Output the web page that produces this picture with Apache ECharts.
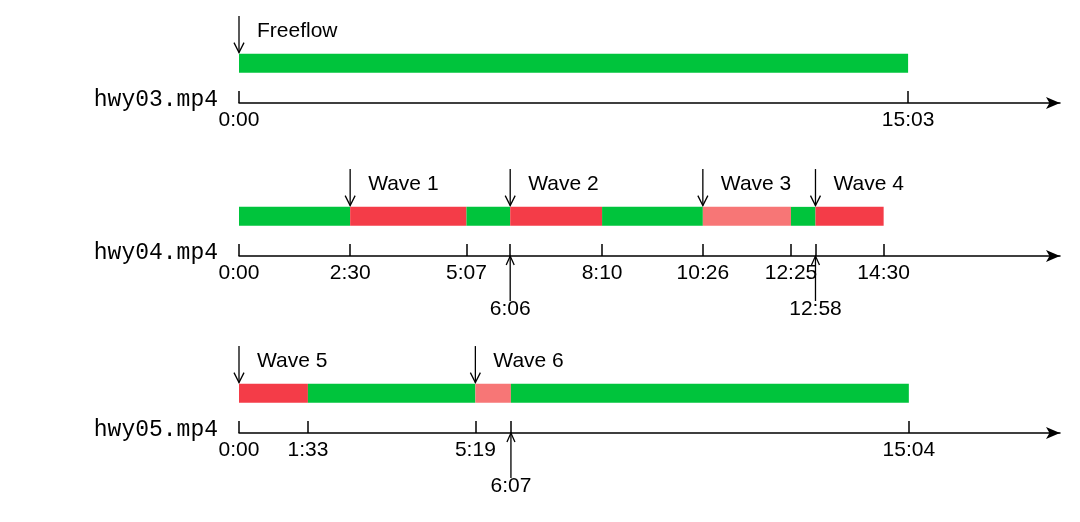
<!DOCTYPE html>
<html>
<head>
<meta charset="utf-8">
<script src="https://cdn.jsdelivr.net/npm/echarts@6/dist/echarts.min.js"></script>
<style>html,body{margin:0;padding:0;background:#fff}#chart{width:1080px;height:522px}</style>
</head>
<body>
<div id="chart"></div>
<script>
// video names, one timeline per video
const rows = ['hwy03.mp4', 'hwy04.mp4', 'hwy05.mp4'];

// segments in seconds: [start, end, state]  g = free flow, r = wave, l = light wave
const segments = [
  [[0, 903, 'g']],
  [[0, 150, 'g'], [150, 307, 'r'], [307, 366, 'g'], [366, 490, 'r'], [490, 626, 'g'],
   [626, 745, 'l'], [745, 778, 'g'], [778, 870, 'r']],
  [[0, 93, 'r'], [93, 319, 'g'], [319, 367, 'l'], [367, 904, 'g']]
];

// event markers: [time, label]
const waves = [
  [[0, 'Freeflow']],
  [[150, 'Wave 1'], [366, 'Wave 2'], [626, 'Wave 3'], [778, 'Wave 4']],
  [[0, 'Wave 5'], [319, 'Wave 6']]
];

// tick labels above line, and lowered ones with an up arrow
const ticksUpper = [
  [0, 903],
  [0, 150, 307, 490, 626, 745, 870],
  [0, 93, 319, 904]
];
const ticksLower = [
  [],
  [366, 778],
  [367]
];

const colors = { g: '#00c43c', r: '#f43c48', l: '#f77676' };
const gridTops = [40, 193, 370];
const AX_MAX = 1108;

function fmt(s) {
  let m = Math.floor(s / 60), sec = s % 60;
  return m + ':' + (sec < 10 ? '0' : '') + sec;
}

const grids = [], xAxes = [], yAxes = [], series = [], graphics = [];

rows.forEach((name, i) => {
  grids.push({ left: 239, right: 20, top: gridTops[i], height: 63 });
  xAxes.push({
    gridIndex: i, type: 'value', min: 0, max: AX_MAX,
    axisLine: { show: true, symbol: ['none', 'arrow'], symbolSize: [9, 14], lineStyle: { color: '#000', width: 1.5 } },
    axisTick: { show: true, inside: true, length: 12, customValues: ticksUpper[i].concat(ticksLower[i]), lineStyle: { color: '#000', width: 1.5 } },
    axisLabel: { show: false }, splitLine: { show: false }
  });
  yAxes.push({ gridIndex: i, type: 'value', min: 0, max: 1, show: false });

  // colored bars
  series.push({
    type: 'custom', xAxisIndex: i, yAxisIndex: i, silent: true,
    data: segments[i].map(s => [s[0], s[1], s[2]]),
    renderItem: (params, api) => {
      const s = segments[i][params.dataIndex];
      const p0 = api.coord([s[0], 0.78]), p1 = api.coord([s[1], 0.48]);
      return { type: 'rect', shape: { x: p0[0], y: p0[1], width: p1[0] - p0[0], height: p1[1] - p0[1] },
        style: { fill: colors[s[2]] } };
    }
  });

  // down arrows with labels
  series.push({
    type: 'custom', xAxisIndex: i, yAxisIndex: i, silent: true,
    data: waves[i].map(w => [w[0]]),
    renderItem: (params, api) => {
      const w = waves[i][params.dataIndex];
      const a = api.coord([w[0], 1.38]), b = api.coord([w[0], 0.8]);
      return { type: 'group', children: [
        { type: 'line', shape: { x1: a[0], y1: a[1], x2: b[0], y2: b[1] }, style: { stroke: '#000', lineWidth: 1.3 } },
        { type: 'polyline', shape: { points: [[b[0] - 5, b[1] - 10], [b[0], b[1]], [b[0] + 5, b[1] - 10]] }, style: { stroke: '#000', lineWidth: 1.3, fill: null } },
        { type: 'text', style: { text: w[1], x: a[0] + 18, y: a[1] + 15, fill: '#000', font: '21px "Liberation Sans"', textVerticalAlign: 'middle' } }
      ] };
    }
  });

  // tick labels
  series.push({
    type: 'custom', xAxisIndex: i, yAxisIndex: i, silent: true,
    data: ticksUpper[i].map(t => [t]),
    renderItem: (params, api) => {
      const t = ticksUpper[i][params.dataIndex];
      const p = api.coord([t, 0]);
      return { type: 'text', style: { text: fmt(t), x: p[0], y: p[1] + 17, textAlign: 'center', textVerticalAlign: 'middle', fill: '#000', font: '21px "Liberation Sans"' } };
    }
  });
  series.push({
    type: 'custom', xAxisIndex: i, yAxisIndex: i, silent: true,
    data: ticksLower[i].map(t => [t]),
    renderItem: (params, api) => {
      const t = ticksLower[i][params.dataIndex];
      const p = api.coord([t, 0]);
      return { type: 'group', children: [
        { type: 'line', shape: { x1: p[0], y1: p[1] + 45, x2: p[0], y2: p[1] }, style: { stroke: '#000', lineWidth: 1.3 } },
        { type: 'polyline', shape: { points: [[p[0] - 4, p[1] + 9], [p[0], p[1]], [p[0] + 4, p[1] + 9]] }, style: { stroke: '#000', lineWidth: 1.3, fill: null } },
        { type: 'text', style: { text: fmt(t), x: p[0], y: p[1] + 53, textAlign: 'center', textVerticalAlign: 'middle', fill: '#000', font: '21px "Liberation Sans"' } }
      ] };
    }
  });

  graphics.push({ type: 'text', right: 1080 - 218, top: gridTops[i] + 63 - 15,
    style: { text: name, fill: '#000', font: '23px "Liberation Mono"' } });
});

const chart = echarts.init(document.getElementById('chart'));
chart.setOption({
  animation: false,
  grid: grids, xAxis: xAxes, yAxis: yAxes, series: series, graphic: graphics
});
</script>
</body>
</html>
